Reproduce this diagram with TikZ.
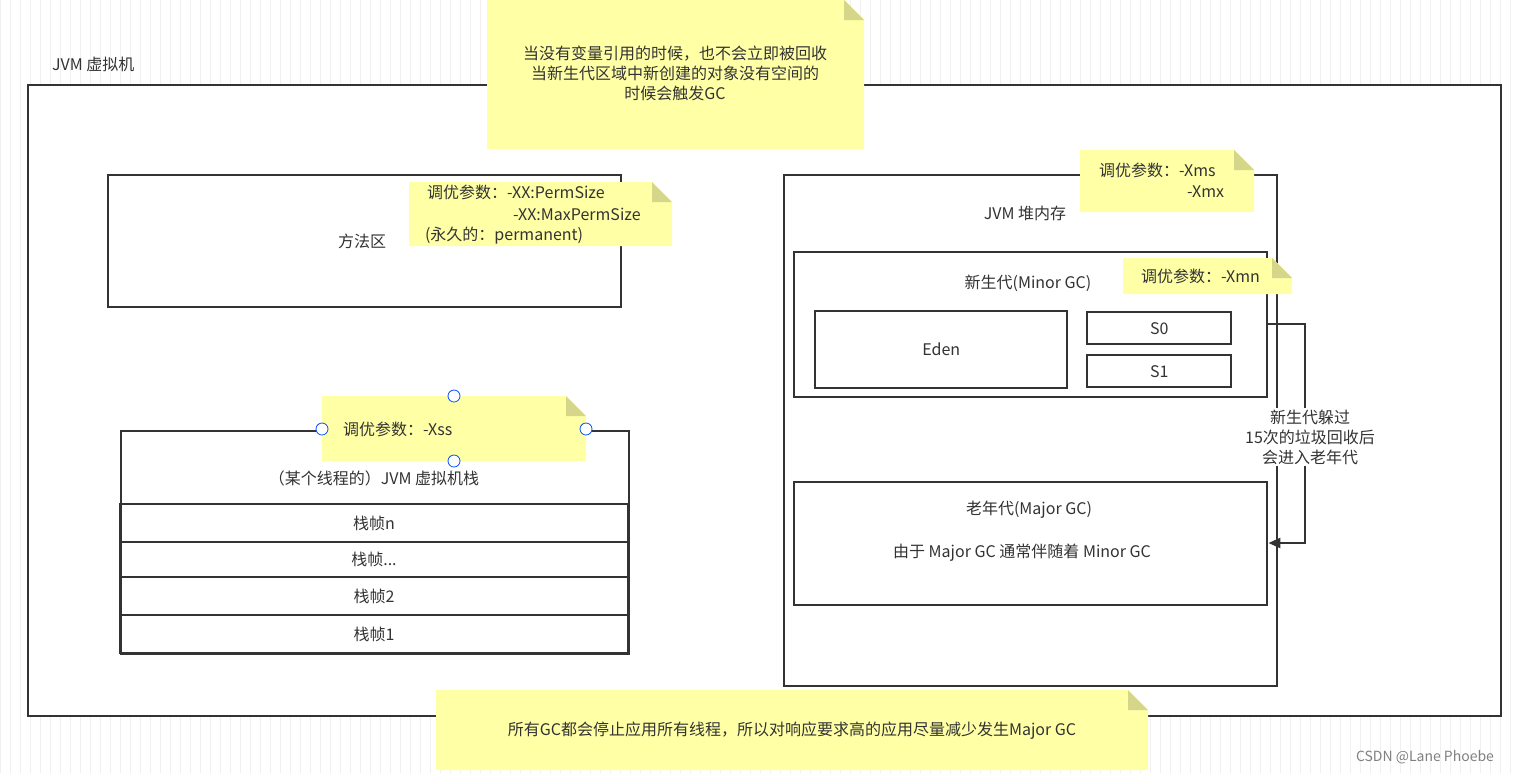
\documentclass[tikz,border=0pt]{standalone}
\usepackage{fontspec}
\setmainfont{Noto Sans CJK SC}
\usetikzlibrary{positioning}
\usetikzlibrary{arrows.meta}
\definecolor{noteyellow}{HTML}{FFFFA6}
\definecolor{notefold}{HTML}{D6D68A}
\definecolor{linegray}{HTML}{333333}
\tikzset{
    % Plain boxes of the diagram
    region/.style={draw=linegray, line width=1.2pt, fill=white},
    % Labels in the boxes
    label text/.style={font=\fontsize{8}{10}\selectfont, text=linegray, align=center},
    % Handles of a selected note
    handle/.style={circle, draw=blue!70!cyan, fill=white, inner sep=0pt, minimum size=6pt}}
% Sticky note: corners (x1,y1) (x2,y2)
\newcommand{\stickynote}[4]{%
    \fill[noteyellow] (#1,#2) -- (#3-20,#2) -- (#3,#2+20) -- (#3,#4) -- (#1,#4) -- cycle;
    \fill[notefold] (#3-20,#2) -- (#3,#2+20) -- (#3-20,#2+20) -- cycle;}

\begin{document}
\begin{tikzpicture}[x=0.5pt, y=-0.5pt]

\useasboundingbox (0,0) rectangle (1520,773);
\draw[black!6, line width=0.4pt, step=10] (0,0) grid (1520,773);

% outer machine
\node (jvm) [region, anchor=north west, minimum width=736.5pt, minimum height=315.5pt, inner sep=0]
    at (27,84) {};
\node (jvmlabel) [label text, anchor=west] at (45,64) {JVM 虚拟机};

% method area
\node (method) [region, anchor=north west, minimum width=256.5pt, minimum height=66pt, inner sep=0]
    at (107,174) {};
\node (methodlabel) [label text] at (362,241) {方法区};

% thread stack
\node (stack) [region, anchor=north west, minimum width=254pt, minimum height=111.5pt, inner sep=0]
    at (120,430) {};
\node (stacklabel) [label text] at (374,478) {（某个线程的）JVM 虚拟机栈};
\foreach \top/\bot/\name in {504/542/{栈帧n}, 542/577/{栈帧...}, 577/615/{栈帧2}, 615/653/{栈帧1}} {
    \draw[linegray, line width=1.2pt] (120,\top) rectangle (628,\bot);
    \node [label text] at (374,{(\top+\bot)/2}) {\name};
}

% heap
\node (heap) [region, anchor=north west, minimum width=246.5pt, minimum height=255.5pt, inner sep=0]
    at (783,174) {};
\node (heaplabel) [label text] at (1025,213) {JVM 堆内存};
\node (young) [region, anchor=north west, minimum width=236.5pt, minimum height=72.5pt, inner sep=0]
    at (793,251) {};
\node (younglabel) [label text] at (1028,283) {新生代(Minor GC)};
\node (eden) [region, anchor=north west, minimum width=126pt, minimum height=38.5pt, inner sep=0]
    at (814,310) {};
\node [label text] at (eden) {Eden};
\node (s0) [region, anchor=north west, minimum width=72pt, minimum height=16pt, inner sep=0]
    at (1086,311) {};
\node [label text] at (s0) {S0};
\node (s1) [region, anchor=north west, minimum width=72pt, minimum height=16pt, inner sep=0]
    at (1086,354) {};
\node [label text] at (s1) {S1};
\node (old) [region, anchor=north west, minimum width=236.5pt, minimum height=61.5pt, inner sep=0]
    at (793,481) {};
\node (oldlabel) [label text] at (1029,510) {老年代(Major GC)};
\node (oldnote) [label text] at (1022,553) {由于 Major GC 通常伴随着 Minor GC};

% promotion
\coordinate (turn) at (1305,324);
\draw[linegray, line width=1.2pt, -{Triangle[length=6pt, width=5pt]}]
    (young.east |- turn) -- (turn) -- (turn |- 0,543) -- (old.east |- 0,543);
\node (promote) [label text, fill=white, inner sep=1pt] at (1310,437)
    {新生代躲过\\15次的垃圾回收后\\会进入老年代};

% notes
\stickynote{487}{0}{864}{149}
\node (gcnote) [label text] at (675,73)
    {当没有变量引用的时候，也不会立即被回收\\当新生代区域中新创建的对象没有空间的\\时候会触发GC};
\stickynote{409}{182}{672}{246}
\node [label text, anchor=west] at (420,192) {调优参数：-XX:PermSize};
\node [label text, anchor=west] at (506,214) {-XX:MaxPermSize};
\node [label text, anchor=west] at (418,236) {(永久的：permanent)};
\stickynote{322}{396}{586}{461}
\node [label text, anchor=west] at (336,429) {调优参数：-Xss};
\foreach \p in {(454,396), (322,429), (586,429), (454,461)}
    \node [handle] at \p {};
\stickynote{1080}{150}{1254}{212}
\node [label text, anchor=west] at (1092,170) {调优参数：-Xms};
\node [label text, anchor=west] at (1180,192) {-Xmx};
\stickynote{1123}{258}{1292}{294}
\node [label text, anchor=west] at (1134,276) {调优参数：-Xmn};
\stickynote{436}{690}{1148}{770}
\node (stopnote) [label text] at (792,731)
    {所有GC都会停止应用所有线程，所以对响应要求高的应用尽量减少发生Major GC};

\node (mark) [font=\fontsize{7}{8}\selectfont, text=black!50] at (1425,757) {CSDN @Lane Phoebe};

\end{tikzpicture}
\end{document}
